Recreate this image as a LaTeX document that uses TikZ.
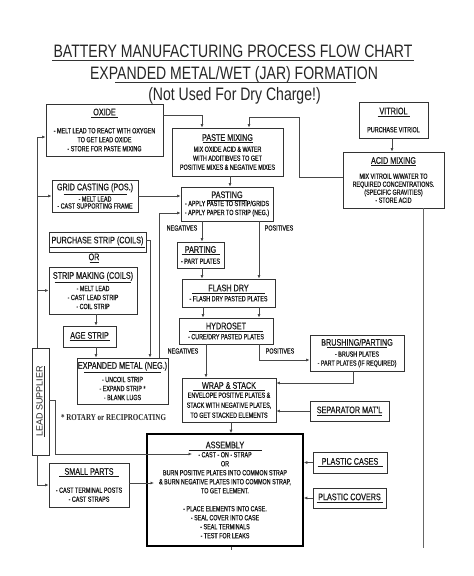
\documentclass[tikz,border=0pt]{standalone}
\usepackage{fontspec}
\setmainfont{Liberation Sans}
\newfontfamily\condfont{Liberation Sans}[FakeStretch=0.72,FakeBold=0.6]
\newfontfamily\headfont{Liberation Sans}[FakeStretch=0.76,FakeBold=0.5]
\newfontfamily\titlefont{Liberation Sans}[FakeStretch=0.78]
\newfontfamily\notefont{Liberation Serif}[FakeStretch=0.78]
\usetikzlibrary{arrows.meta}
%% underlined box heading of a given rule width
\newcommand\hd[2]{\vtop{\hbox to #1{\hss\headfont\fontsize{9.5}{10}\selectfont #2\hss}\kern1.4pt\hrule width #1 height 0.75pt}}
\begin{document}
\begin{tikzpicture}[x=1pt,y=-1pt,
    box/.style 2 args={draw=black!80,line width=0.8pt,inner sep=0pt,align=center,
        minimum width=#1pt,minimum height=#2pt,text=black!90,
        font=\condfont\fontsize{7.5}{9}\selectfont},
    arr/.style={draw=black!72,line width=0.9pt,-{Latex[length=3.5pt,width=3pt]}},
    lbl/.style={text=black!90,inner sep=0pt,font=\condfont\fontsize{7.5}{9}\selectfont}]
    \fill[white] (0,0) rectangle (474,576);
    \useasboundingbox (0,0) rectangle (474,576);
    %% heading
    \node[anchor=base,text=black!85,font=\titlefont\fontsize{18}{20}\selectfont] (title) at (233,57) {BATTERY MANUFACTURING PROCESS FLOW CHART};
    \node[anchor=base,text=black!85,font=\titlefont\fontsize{18}{20}\selectfont] (subtitle) at (234,79) {EXPANDED METAL/WET (JAR) FORMATION};
    \node[anchor=base,text=black!85,font=\titlefont\fontsize{18}{20}\selectfont] (remark) at (234.5,100) {(Not Used For Dry Charge!)};
    \draw[black!80,line width=0.8pt] (52,60) -- (414,60);
    \draw[black!80,line width=0.8pt] (115,82) -- (356,82);
    %% left column
    \node[box={117}{52}] (oxide) at (104.5,130) {\hd{27pt}{OXIDE}\\[9pt] - MELT LEAD TO REACT WITH OXYGEN\\ TO GET LEAD OXIDE\\ - STORE FOR PASTE MIXING};
    \node[box={86}{32}] (grid) at (95,196) {\hd{63pt}{GRID CASTING (POS.)}\\[1pt] - MELT LEAD\\[-2pt] - CAST SUPPORTING FRAME};
    \node[box={97}{20}] (purchase) at (97.5,242) {\hd{95pt}{PURCHASE STRIP (COILS)}};
    \node[lbl] (or) at (94,258) {\hd{9pt}{OR}};
    \node[box={88}{47}] (stripmk) at (93,290.5) {\hd{77pt}{STRIP MAKING (COILS)}\\[2pt] - MELT LEAD\\ - CAST LEAD STRIP\\ - COIL STRIP};
    \node[box={53}{21}] (age) at (89.5,336.5) {\hd{40pt}{AGE STRIP}};
    \node[box={91}{46}] (expanded) at (122.5,381) {\hd{77pt}{EXPANDED METAL (NEG.)}\\[3pt] - UNCOIL STRIP\\ - EXPAND STRIP *\\ - BLANK LUGS};
    \node[text=black!85,font=\notefont\bfseries\fontsize{9}{10}\selectfont] (rotary) at (113.5,418) {* ROTARY or RECIPROCATING};
    \node[box={17}{107}] (lead) at (40.5,401.5) {};
    \node[rotate=90,text=black!85,font=\fontsize{9}{10}\selectfont] (leadtext) at (lead.center) {\underline{LEAD SUPPLIER}};
    \node[box={80}{44}] (small) at (89,485) {\hd{60pt}{SMALL PARTS}\\[9pt] - CAST TERMINAL POSTS\\ - CAST STRAPS};
    %% middle column
    \node[box={111}{48}] (paste) at (227.5,152) {\hd{50pt}{PASTE MIXING}\\[2pt] MIX OXIDE ACID \& WATER\\ WITH ADDITIBVES TO GET\\ POSITIVE MIXES \& NEGATIVE MIXES};
    \node[box={92}{34}] (pasting) at (227,204) {\hd{40pt}{PASTING}\\[-1pt] - APPLY PASTE TO STRIP/GRIDS\\ - APPLY PAPER TO STRIP (NEG.)};
    \node[box={47}{26}] (parting) at (200.5,255) {\hd{38pt}{PARTING}\\[2pt] - PART PLATES};
    \node[box={93}{28}] (flash) at (228.5,293) {\hd{73pt}{FLASH DRY}\\[1pt] - FLASH DRY PASTED PLATES};
    \node[box={94}{26}] (hydro) at (226,331) {\hd{74pt}{HYDROSET}\\[1pt] - CURE/DRY PASTED PLATES};
    \node[box={94}{44}] (wrap) at (229,400) {\hd{72pt}{WRAP \& STACK}\\[0pt] ENVELOPE POSITIVE PLATES \&\\[1pt] STACK WITH NEGATIVE PLATES,\\[1pt] TO GET STACKED ELEMENTS};
    \node[box={156}{112},draw=black,line width=1.6pt] (assembly) at (225,490) {\hd{73pt}{ASSEMBLY}\\[0pt] - CAST - ON - STRAP\\ OR\\ BURN POSITIVE PLATES INTO COMMON STRAP\\ \& BURN NEGATIVE PLATES INTO COMMON STRAP,\\ TO GET ELEMENT.\\[9pt] - PLACE ELEMENTS INTO CASE.\\ - SEAL COVER INTO CASE\\ - SEAL TERMINALS\\ - TEST FOR LEAKS};
    %% right column
    \node[box={69}{36}] (vitriol) at (393.5,120) {\hd{32pt}{VITRIOL}\\[9pt] PURCHASE VITRIOL};
    \node[box={101}{56}] (acid) at (393.5,180) {\hd{45pt}{ACID MIXING}\\[6pt] MIX VITROIL W/WATER TO\\[-1pt] REQUIRED CONCENTRATIONS.\\[-1pt] (SPECIFIC GRAVITIES)\\[-1pt] - STORE ACID};
    \node[box={94}{36}] (brush) at (357,353) {\hd{60pt}{BRUSHING/PARTING}\\[2pt] - BRUSH PLATES\\ - PART PLATES (IF REQUIRED)};
    \node[box={79}{20}] (sep) at (349.5,411) {\hd{65pt}{SEPARATOR MAT'L}};
    \node[box={74}{21}] (cases) at (350,462.5) {\hd{65pt}{PLASTIC CASES}};
    \node[box={73}{20}] (covers) at (349.5,498) {\hd{66pt}{PLASTIC COVERS}};
    %% free ends
    \coordinate (tgrid) at (37,196);
    \coordinate (tstrip) at (37,290.5);
    \coordinate (cast) at (192,454);
    \coordinate (burn) at (154,483);
    \coordinate (acidend) at (423,548);
    %% flow into paste mixing and pasting
    \draw[arr] ([yshift=15pt]oxide.east) -| ([xshift=-25.5pt]paste.north);
    \draw[arr] ([yshift=3pt]acid.west) -| (299,117) -| ([xshift=21.5pt]paste.north);
    \draw[arr] ([xshift=-1.5pt]vitriol.south) -- ([xshift=-1.5pt]acid.north);
    \draw[arr] ([xshift=2.5pt]paste.south) -- ([xshift=2.5pt]paste.south |- pasting.north);
    \draw[arr] (grid.east) -- (grid.east -| pasting.west);
    \draw[arr] ([xshift=36.5pt]expanded.north) |- ([yshift=-9pt]pasting.west);
    \draw[arr] ([yshift=1.5pt]purchase.east) -| ([xshift=27.5pt]expanded.north);
    \draw[arr] ([xshift=3pt]stripmk.south) -- ([xshift=3pt]stripmk.south |- age.north);
    \draw[arr] ([xshift=6.5pt]age.south) -- ([xshift=6.5pt]age.south |- expanded.north);
    %% negatives / positives
    \draw[arr] ([xshift=-25pt]pasting.south) -- ([xshift=-25pt]pasting.south |- parting.north);
    \draw[arr] ([xshift=32pt]pasting.south) -- ([xshift=32pt]pasting.south |- flash.north);
    \node[lbl] (neg1) at (182,228) {NEGATIVES};
    \node[lbl] (pos1) at (279,228) {POSITIVES};
    \draw[arr] ([xshift=1.5pt]parting.south) -- ([xshift=1.5pt]parting.south |- flash.north);
    \foreach \dx in {-25.5,30.5}
        \draw[arr] ([xshift=\dx pt]flash.south) -- ([xshift=\dx pt]flash.south |- hydro.north);
    \draw[arr] ([xshift=-20pt]hydro.south) -- ([xshift=-20pt]hydro.south |- wrap.north);
    \draw[arr] ([xshift=33pt]hydro.south) |- ([yshift=-7pt]brush.west);
    \node[lbl] (neg2) at (183,351) {NEGATIVES};
    \node[lbl] (pos2) at (280,351) {POSITIVES};
    \draw[arr] ([xshift=-4pt]brush.south) |- ([yshift=17pt]wrap.east);
    \draw[arr] (sep.west) -- (sep.west -| wrap.east);
    \draw[arr] ([xshift=2pt]wrap.south) -- ([xshift=2pt]wrap.south |- assembly.north);
    \draw[arr] (cases.west) -- (cases.west -| assembly.east);
    \draw[arr] (covers.west) -- (covers.west -| assembly.east);
    %% lead supplier
    \draw[arr] ([xshift=-3.5pt]lead.north) |- ([yshift=-7pt]oxide.west);
    \draw[arr] (tgrid) -- (grid.west);
    \draw[arr] (tstrip) -- (stripmk.west);
    \draw[arr] ([xshift=-3.5pt]lead.south) |- (small.west);
    \draw[arr] ([yshift=1.5pt]lead.east) -| (55,454) -- (cast);
    \draw[arr] ([yshift=2pt]small.east) -- (burn);
    %% acid down the side
    \draw[black!60,line width=1pt] ([xshift=29.5pt]acid.south) -- (acidend);
    \draw[black!70,line width=0.8pt] ([xshift=6pt]assembly.south) -- ++(0,3);
\end{tikzpicture}
\end{document}
